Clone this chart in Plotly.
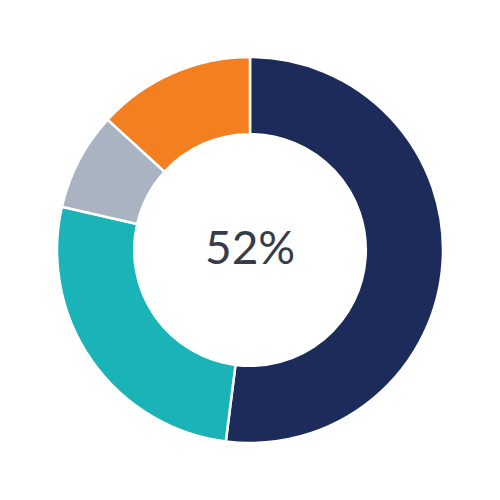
import plotly.graph_objects as go

labels = ["A", "B", "C", "D"]
values = [52, 26.6, 8.2, 13.2]
colors = ["#1c2b5a", "#1ab4b8", "#a9b3c1", "#f47f20"]
center_text = "52%"

fig = go.Figure(go.Pie(
    labels=labels,
    values=values,
    hole=0.6,
    sort=False,
    direction="clockwise",
    rotation=0,
    textinfo="none",
    hoverinfo="label+percent",
    marker=dict(colors=colors, line=dict(color="white", width=2.5)),
))

fig.add_annotation(text=center_text, x=0.5, y=0.5, xref="paper", yref="paper",
                   yshift=4, showarrow=False,
                   font=dict(family="Lato", size=46, color="#363c48"))

# page body has an 8px margin, so shift the plot area up/left to centre it
fig.update_layout(width=500, height=500, showlegend=False,
                  margin=dict(l=49, r=65, t=49, b=65),
                  paper_bgcolor="white", plot_bgcolor="white")

fig.write_html("out.html")
